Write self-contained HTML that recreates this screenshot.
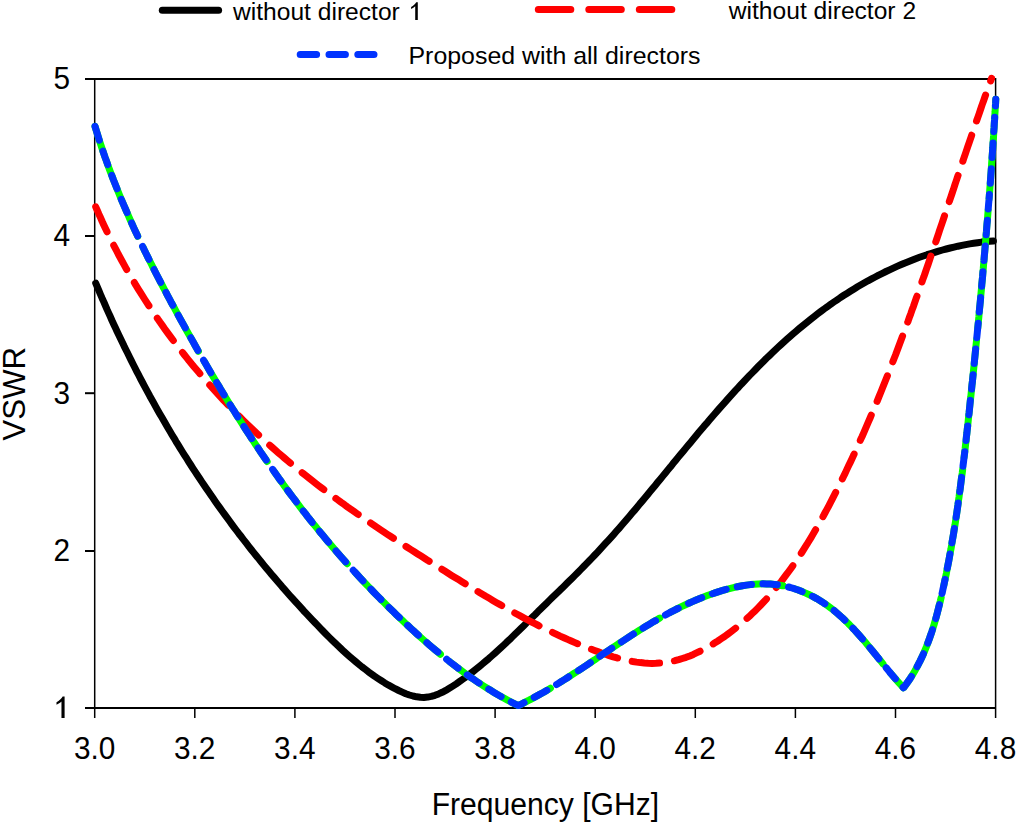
<!DOCTYPE html>
<html><head><meta charset="utf-8"><style>
html,body{margin:0;padding:0;background:#fff;}
svg{display:block;}
.t{font-family:"Liberation Sans",sans-serif;font-size:29.8px;fill:#000;}
.l{font-family:"Liberation Sans",sans-serif;font-size:24.6px;fill:#000;}
</style></head><body>
<svg width="1017" height="822" viewBox="0 0 1017 822">
<rect width="1017" height="822" fill="#fff"/>
<g stroke="#000" stroke-width="2" fill="none">
<path d="M85,79 H996" stroke-width="2"/>
<path d="M85,708 H996" stroke-width="2"/>
<path d="M94.7,78 V709" stroke-width="1.5"/>
<path d="M995.6,78 V718" stroke-width="1.5"/>
<path d="M85,551.0 H94.7" stroke-width="2"/>
<path d="M85,393.2 H94.7" stroke-width="2"/>
<path d="M85,236.0 H94.7" stroke-width="2"/>
<path d="M94.7,708 V718" stroke-width="1.5"/>
<path d="M194.8,708 V718" stroke-width="1.5"/>
<path d="M294.9,708 V718" stroke-width="1.5"/>
<path d="M395.0,708 V718" stroke-width="1.5"/>
<path d="M495.1,708 V718" stroke-width="1.5"/>
<path d="M595.2,708 V718" stroke-width="1.5"/>
<path d="M695.3,708 V718" stroke-width="1.5"/>
<path d="M795.4,708 V718" stroke-width="1.5"/>
<path d="M895.5,708 V718" stroke-width="1.5"/>
</g>
<g fill="none" stroke-linecap="round" stroke-linejoin="round" stroke-width="7">
<path d="M95.7,283.2 L97.3,286.9 L98.9,290.7 L100.5,294.5 L102.1,298.2 L103.8,301.9 L105.4,305.7 L107.0,309.4 L108.7,313.1 L110.4,316.8 L112.0,320.5 L113.7,324.2 L115.4,327.8 L117.1,331.5 L118.9,335.2 L120.6,338.8 L122.4,342.5 L124.1,346.1 L125.9,349.7 L127.7,353.3 L129.5,357.0 L131.3,360.6 L133.1,364.2 L134.9,367.8 L136.7,371.3 L138.6,374.9 L140.4,378.5 L142.3,382.0 L144.2,385.6 L146.1,389.1 L148.0,392.6 L149.9,396.2 L151.9,399.7 L153.8,403.2 L155.7,406.7 L157.7,410.2 L159.7,413.7 L161.7,417.1 L163.7,420.6 L165.7,424.1 L167.7,427.5 L169.8,431.0 L171.8,434.4 L173.9,437.8 L175.9,441.3 L178.0,444.7 L180.1,448.1 L182.2,451.5 L184.3,454.8 L186.5,458.2 L188.6,461.6 L190.8,465.0 L192.9,468.3 L195.1,471.7 L197.3,475.0 L199.5,478.3 L201.7,481.6 L204.0,485.0 L206.2,488.3 L208.5,491.6 L210.7,494.8 L213.0,498.1 L215.3,501.4 L217.6,504.7 L219.9,507.9 L222.3,511.2 L224.6,514.4 L227.0,517.6 L229.3,520.8 L231.7,524.1 L234.1,527.3 L236.5,530.5 L238.9,533.7 L241.4,536.8 L243.8,540.0 L246.3,543.2 L248.7,546.3 L251.2,549.5 L253.7,552.6 L256.2,555.7 L258.8,558.9 L261.3,562.0 L263.8,565.1 L266.4,568.2 L269.0,571.3 L271.6,574.4 L274.2,577.4 L276.8,580.5 L279.4,583.5 L282.0,586.6 L284.7,589.6 L287.4,592.7 L290.0,595.7 L292.7,598.7 L295.4,601.7 L298.2,604.7 L300.9,607.7 L303.6,610.7 L306.4,613.6 L309.2,616.6 L312.0,619.6 L314.8,622.5 L317.6,625.4 L320.4,628.4 L323.2,631.3 L326.1,634.2 L329.0,637.1 L331.9,639.9 L334.8,642.8 L337.7,645.6 L340.7,648.4 L343.6,651.2 L346.6,653.9 L349.7,656.6 L352.7,659.2 L355.8,661.8 L358.9,664.4 L362.0,666.9 L365.2,669.3 L368.4,671.8 L371.6,674.1 L374.8,676.4 L378.1,678.6 L381.5,680.8 L384.8,682.9 L388.2,684.9 L391.7,686.8 L395.1,688.7 L398.7,690.5 L402.2,692.1 L405.8,693.7 L409.4,695.0 L413.0,696.0 L416.7,696.8 L420.3,697.3 L424.0,697.4 L427.7,697.1 L431.3,696.4 L435.0,695.3 L438.6,693.9 L442.2,692.3 L445.8,690.4 L449.3,688.3 L452.8,686.1 L456.3,683.8 L459.7,681.4 L463.1,679.0 L466.5,676.6 L469.7,674.1 L473.0,671.6 L476.2,669.1 L479.4,666.5 L482.5,663.9 L485.6,661.3 L488.7,658.7 L491.7,656.0 L494.7,653.3 L497.7,650.6 L500.7,647.9 L503.6,645.2 L506.5,642.4 L509.5,639.7 L512.3,636.9 L515.2,634.1 L518.1,631.3 L520.9,628.5 L523.8,625.7 L526.6,622.9 L529.5,620.1 L532.3,617.3 L535.2,614.5 L538.0,611.6 L540.9,608.8 L543.7,606.0 L546.6,603.2 L549.4,600.4 L552.3,597.6 L555.2,594.8 L558.1,592.0 L560.9,589.2 L563.8,586.4 L566.7,583.5 L569.5,580.7 L572.4,577.9 L575.2,575.1 L578.1,572.2 L580.9,569.4 L583.7,566.5 L586.5,563.6 L589.3,560.8 L592.1,557.9 L594.8,555.0 L597.6,552.1 L600.3,549.1 L603.0,546.2 L605.7,543.2 L608.4,540.3 L611.1,537.3 L613.8,534.3 L616.4,531.3 L619.1,528.3 L621.7,525.3 L624.3,522.3 L626.9,519.2 L629.5,516.2 L632.1,513.1 L634.7,510.1 L637.3,507.0 L639.8,503.9 L642.4,500.9 L645.0,497.8 L647.5,494.7 L650.1,491.6 L652.6,488.5 L655.2,485.4 L657.7,482.3 L660.3,479.2 L662.8,476.1 L665.4,473.0 L667.9,469.9 L670.5,466.8 L673.0,463.6 L675.6,460.5 L678.1,457.4 L680.7,454.3 L683.3,451.2 L685.8,448.1 L688.4,445.0 L691.0,441.9 L693.6,438.8 L696.1,435.7 L698.7,432.6 L701.3,429.5 L703.9,426.4 L706.6,423.4 L709.2,420.3 L711.8,417.2 L714.4,414.2 L717.1,411.1 L719.7,408.1 L722.4,405.1 L725.1,402.1 L727.7,399.1 L730.4,396.1 L733.1,393.1 L735.8,390.1 L738.6,387.2 L741.3,384.2 L744.1,381.3 L746.8,378.4 L749.6,375.4 L752.4,372.6 L755.2,369.7 L758.0,366.8 L760.8,364.0 L763.6,361.2 L766.5,358.3 L769.4,355.6 L772.3,352.8 L775.2,350.0 L778.1,347.3 L781.0,344.6 L784.0,341.9 L787.0,339.2 L789.9,336.6 L793.0,333.9 L796.0,331.3 L799.0,328.8 L802.1,326.2 L805.2,323.7 L808.3,321.2 L811.4,318.7 L814.6,316.2 L817.7,313.8 L820.9,311.4 L824.1,309.0 L827.4,306.7 L830.6,304.3 L833.9,302.0 L837.2,299.8 L840.5,297.5 L843.9,295.3 L847.3,293.2 L850.7,291.0 L854.1,288.9 L857.5,286.8 L861.0,284.8 L864.5,282.8 L868.0,280.8 L871.6,278.9 L875.2,277.0 L878.7,275.1 L882.4,273.3 L886.0,271.5 L889.6,269.8 L893.3,268.1 L897.0,266.4 L900.7,264.8 L904.4,263.2 L908.2,261.7 L911.9,260.2 L915.7,258.7 L919.5,257.3 L923.3,256.0 L927.1,254.7 L930.9,253.5 L934.7,252.3 L938.6,251.1 L942.5,250.0 L946.3,249.0 L950.2,248.0 L954.1,247.1 L958.0,246.2 L961.9,245.4 L965.8,244.6 L969.7,243.9 L973.7,243.3 L977.6,242.7 L981.6,242.1 L985.5,241.7 L989.4,241.3 L993.4,240.9" stroke="#000"/>
<path d="M95.7,206.8 L97.3,210.5 L98.9,214.2 L100.6,217.8 L102.2,221.5 L103.9,225.2 L105.6,228.8 L107.3,232.4 L109.1,236.1 L110.9,239.7 L112.7,243.3 L114.5,246.8 L116.4,250.4 L118.2,254.0 L120.1,257.5 L122.0,261.0 L124.0,264.6 L125.9,268.1 L127.9,271.6 L129.9,275.0 L131.9,278.5 L134.0,281.9 L136.0,285.4 L138.1,288.8 L140.2,292.2 L142.4,295.6 L144.5,299.0 L146.7,302.4 L148.9,305.7 L151.1,309.1 L153.3,312.4 L155.6,315.7 L157.9,319.1 L160.1,322.3 L162.5,325.6 L164.8,328.9 L167.1,332.1 L169.5,335.4 L171.9,338.6 L174.3,341.8 L176.7,345.0 L179.2,348.2 L181.6,351.3 L184.1,354.5 L186.6,357.6 L189.1,360.8 L191.7,363.9 L194.2,367.0 L196.8,370.0 L199.4,373.1 L202.0,376.2 L204.6,379.2 L207.2,382.2 L209.9,385.2 L212.6,388.2 L215.3,391.2 L218.0,394.2 L220.7,397.1 L223.4,400.0 L226.2,402.9 L228.9,405.9 L231.7,408.7 L234.5,411.6 L237.4,414.5 L240.2,417.3 L243.0,420.1 L245.9,422.9 L248.8,425.7 L251.7,428.5 L254.6,431.3 L257.5,434.0 L260.4,436.8 L263.4,439.5 L266.3,442.2 L269.3,444.9 L272.3,447.5 L275.3,450.2 L278.3,452.8 L281.4,455.4 L284.4,458.0 L287.5,460.6 L290.5,463.2 L293.6,465.8 L296.7,468.3 L299.8,470.8 L302.9,473.3 L306.1,475.8 L309.2,478.3 L312.4,480.8 L315.5,483.2 L318.7,485.7 L321.9,488.1 L325.1,490.5 L328.3,492.9 L331.5,495.3 L334.7,497.7 L338.0,500.0 L341.2,502.4 L344.5,504.7 L347.7,507.1 L351.0,509.4 L354.3,511.7 L357.5,514.0 L360.8,516.3 L364.1,518.6 L367.4,520.8 L370.8,523.1 L374.1,525.4 L377.4,527.6 L380.7,529.8 L384.1,532.1 L387.4,534.3 L390.8,536.5 L394.1,538.7 L397.5,540.9 L400.8,543.1 L404.2,545.3 L407.6,547.5 L410.9,549.6 L414.3,551.8 L417.7,554.0 L421.1,556.1 L424.5,558.3 L427.9,560.4 L431.2,562.6 L434.6,564.7 L438.0,566.9 L441.4,569.0 L444.8,571.1 L448.2,573.3 L451.6,575.4 L455.0,577.5 L458.5,579.6 L461.9,581.7 L465.3,583.8 L468.7,585.9 L472.1,588.0 L475.5,590.1 L479.0,592.2 L482.4,594.2 L485.8,596.3 L489.3,598.3 L492.8,600.4 L496.2,602.4 L499.7,604.4 L503.2,606.4 L506.6,608.4 L510.1,610.4 L513.6,612.3 L517.2,614.3 L520.7,616.2 L524.2,618.1 L527.8,620.0 L531.3,621.8 L534.9,623.7 L538.5,625.5 L542.1,627.3 L545.7,629.1 L549.3,630.9 L552.9,632.6 L556.6,634.4 L560.2,636.1 L563.9,637.7 L567.6,639.4 L571.3,641.0 L575.0,642.6 L578.8,644.2 L582.5,645.7 L586.3,647.3 L590.1,648.8 L593.9,650.2 L597.8,651.6 L601.6,653.0 L605.5,654.3 L609.3,655.6 L613.2,656.8 L617.1,657.9 L621.0,658.9 L624.9,659.9 L628.8,660.7 L632.7,661.5 L636.5,662.1 L640.4,662.6 L644.3,663.0 L648.2,663.3 L652.1,663.4 L655.9,663.3 L659.7,663.1 L663.6,662.7 L667.4,662.2 L671.2,661.5 L674.9,660.7 L678.7,659.7 L682.4,658.5 L686.1,657.3 L689.8,655.9 L693.4,654.4 L697.0,652.7 L700.6,651.0 L704.1,649.2 L707.7,647.2 L711.1,645.2 L714.5,643.1 L717.9,641.0 L721.3,638.7 L724.6,636.5 L727.8,634.1 L731.0,631.7 L734.2,629.3 L737.3,626.8 L740.3,624.3 L743.4,621.7 L746.3,619.0 L749.3,616.4 L752.2,613.6 L755.0,610.9 L757.8,608.1 L760.6,605.2 L763.4,602.3 L766.1,599.4 L768.7,596.4 L771.3,593.4 L773.9,590.4 L776.5,587.3 L779.0,584.2 L781.5,581.1 L783.9,577.9 L786.3,574.7 L788.7,571.5 L791.1,568.2 L793.4,564.9 L795.7,561.6 L797.9,558.3 L800.2,554.9 L802.4,551.5 L804.5,548.1 L806.7,544.7 L808.8,541.2 L810.9,537.8 L813.0,534.3 L815.0,530.8 L817.1,527.2 L819.1,523.7 L821.0,520.1 L823.0,516.6 L824.9,513.0 L826.9,509.4 L828.8,505.8 L830.7,502.2 L832.5,498.6 L834.4,494.9 L836.2,491.3 L838.0,487.7 L839.8,484.0 L841.6,480.4 L843.4,476.7 L845.2,473.1 L846.9,469.4 L848.6,465.8 L850.4,462.1 L852.1,458.5 L853.8,454.8 L855.4,451.1 L857.1,447.5 L858.8,443.8 L860.4,440.1 L862.1,436.5 L863.7,432.8 L865.3,429.1 L866.9,425.4 L868.5,421.7 L870.1,418.0 L871.6,414.4 L873.2,410.7 L874.7,407.0 L876.3,403.3 L877.8,399.6 L879.3,395.9 L880.8,392.2 L882.3,388.5 L883.8,384.7 L885.3,381.0 L886.8,377.3 L888.3,373.6 L889.7,369.9 L891.2,366.2 L892.6,362.4 L894.0,358.7 L895.5,355.0 L896.9,351.3 L898.3,347.5 L899.7,343.8 L901.1,340.1 L902.5,336.3 L903.9,332.6 L905.2,328.8 L906.6,325.1 L908.0,321.4 L909.3,317.6 L910.7,313.9 L912.0,310.1 L913.4,306.4 L914.7,302.6 L916.0,298.8 L917.4,295.1 L918.7,291.3 L920.0,287.6 L921.3,283.8 L922.6,280.0 L924.0,276.3 L925.3,272.5 L926.6,268.7 L927.9,265.0 L929.2,261.2 L930.4,257.4 L931.7,253.6 L933.0,249.8 L934.3,246.1 L935.6,242.3 L936.9,238.5 L938.2,234.7 L939.4,230.9 L940.7,227.1 L942.0,223.3 L943.3,219.5 L944.5,215.8 L945.8,212.0 L947.1,208.2 L948.4,204.4 L949.6,200.6 L950.9,196.8 L952.2,193.0 L953.5,189.2 L954.7,185.4 L956.0,181.5 L957.3,177.7 L958.6,173.9 L959.8,170.1 L961.1,166.3 L962.4,162.5 L963.7,158.7 L965.0,154.9 L966.3,151.0 L967.6,147.2 L968.9,143.4 L970.2,139.6 L971.5,135.8 L972.8,131.9 L974.1,128.1 L975.4,124.3 L976.7,120.5 L978.1,116.6 L979.4,112.8 L980.7,109.0 L982.0,105.1 L983.4,101.3 L984.7,97.5 L986.1,93.6 L987.4,89.8 L988.8,86.0 L990.2,82.1 L991.6,78.3" stroke="#ff0000" stroke-dasharray="27.5 15"/>
<path d="M95.0,126.4 L96.2,130.3 L97.4,134.1 L98.6,138.0 L99.8,141.8 L101.1,145.7 L102.4,149.5 L103.7,153.3 L105.0,157.1 L106.4,160.9 L107.7,164.7 L109.1,168.5 L110.5,172.2 L112.0,176.0 L113.4,179.8 L114.9,183.5 L116.4,187.2 L117.9,191.0 L119.4,194.7 L120.9,198.4 L122.5,202.1 L124.1,205.8 L125.7,209.5 L127.3,213.2 L128.9,216.9 L130.5,220.5 L132.2,224.2 L133.8,227.8 L135.5,231.5 L137.2,235.1 L138.9,238.8 L140.7,242.4 L142.4,246.0 L144.1,249.6 L145.9,253.2 L147.7,256.9 L149.5,260.5 L151.3,264.0 L153.1,267.6 L154.9,271.2 L156.7,274.8 L158.6,278.4 L160.4,281.9 L162.3,285.5 L164.2,289.1 L166.1,292.6 L167.9,296.2 L169.8,299.7 L171.7,303.3 L173.7,306.8 L175.6,310.3 L177.5,313.9 L179.4,317.4 L181.4,320.9 L183.3,324.4 L185.3,328.0 L187.2,331.5 L189.2,335.0 L191.2,338.5 L193.2,342.0 L195.1,345.5 L197.1,349.0 L199.1,352.5 L201.1,356.0 L203.1,359.5 L205.2,363.0 L207.2,366.4 L209.2,369.9 L211.2,373.4 L213.3,376.9 L215.3,380.3 L217.4,383.8 L219.5,387.2 L221.5,390.7 L223.6,394.1 L225.7,397.5 L227.8,401.0 L229.9,404.4 L232.0,407.8 L234.2,411.2 L236.3,414.6 L238.4,418.0 L240.6,421.4 L242.8,424.8 L244.9,428.2 L247.1,431.6 L249.3,434.9 L251.5,438.3 L253.7,441.7 L255.9,445.0 L258.2,448.3 L260.4,451.7 L262.7,455.0 L264.9,458.3 L267.2,461.6 L269.5,464.9 L271.8,468.2 L274.1,471.5 L276.4,474.8 L278.7,478.1 L281.1,481.3 L283.4,484.6 L285.8,487.8 L288.2,491.1 L290.6,494.3 L293.0,497.5 L295.4,500.7 L297.8,503.9 L300.2,507.1 L302.7,510.3 L305.2,513.4 L307.6,516.6 L310.1,519.7 L312.6,522.9 L315.2,526.0 L317.7,529.1 L320.2,532.2 L322.8,535.3 L325.4,538.4 L327.9,541.5 L330.5,544.6 L333.1,547.6 L335.8,550.7 L338.4,553.7 L341.0,556.7 L343.7,559.8 L346.4,562.8 L349.1,565.8 L351.8,568.7 L354.5,571.7 L357.2,574.7 L359.9,577.6 L362.7,580.6 L365.4,583.5 L368.2,586.4 L371.0,589.3 L373.8,592.2 L376.6,595.1 L379.4,597.9 L382.2,600.8 L385.1,603.6 L387.9,606.5 L390.8,609.3 L393.7,612.1 L396.6,614.9 L399.5,617.7 L402.4,620.4 L405.3,623.2 L408.2,625.9 L411.2,628.7 L414.2,631.4 L417.1,634.1 L420.1,636.8 L423.1,639.5 L426.1,642.1 L429.2,644.8 L432.2,647.4 L435.3,650.0 L438.4,652.5 L441.4,655.1 L444.6,657.6 L447.7,660.1 L450.8,662.6 L454.0,665.1 L457.2,667.5 L460.4,669.9 L463.6,672.3 L466.8,674.6 L470.1,677.0 L473.4,679.2 L476.7,681.5 L480.0,683.7 L483.4,685.9 L486.8,688.0 L490.2,690.1 L493.6,692.2 L497.0,694.3 L500.5,696.3 L504.0,698.2 L507.5,700.1 L511.1,702.0 L514.7,703.8 L518.3,705.6 L521.9,703.8 L525.5,702.0 L529.1,700.2 L532.6,698.3 L536.1,696.4 L539.7,694.4 L543.2,692.5 L546.7,690.4 L550.1,688.4 L553.6,686.3 L557.1,684.2 L560.5,682.1 L564.0,679.9 L567.4,677.7 L570.8,675.5 L574.2,673.3 L577.7,671.1 L581.1,668.8 L584.5,666.6 L587.9,664.3 L591.3,662.0 L594.7,659.8 L598.0,657.5 L601.4,655.2 L604.8,652.9 L608.2,650.7 L611.6,648.4 L615.0,646.1 L618.4,643.8 L621.9,641.6 L625.3,639.4 L628.7,637.1 L632.1,634.9 L635.6,632.7 L639.0,630.6 L642.5,628.4 L645.9,626.3 L649.4,624.2 L652.9,622.1 L656.4,620.1 L659.9,618.0 L663.5,616.1 L667.0,614.1 L670.6,612.2 L674.2,610.3 L677.8,608.5 L681.4,606.7 L685.0,605.0 L688.7,603.3 L692.4,601.6 L696.1,600.0 L699.8,598.5 L703.6,597.0 L707.3,595.6 L711.1,594.2 L715.0,592.9 L718.8,591.6 L722.7,590.4 L726.6,589.3 L730.5,588.3 L734.5,587.3 L738.5,586.5 L742.4,585.7 L746.4,585.1 L750.4,584.6 L754.4,584.2 L758.5,583.9 L762.5,583.8 L766.5,583.9 L770.5,584.1 L774.5,584.4 L778.5,585.0 L782.5,585.7 L786.5,586.5 L790.4,587.5 L794.3,588.7 L798.2,590.0 L802.0,591.5 L805.7,593.1 L809.4,594.8 L813.1,596.6 L816.7,598.6 L820.2,600.7 L823.6,602.9 L826.9,605.2 L830.2,607.6 L833.4,610.0 L836.5,612.6 L839.6,615.3 L842.6,618.0 L845.5,620.8 L848.5,623.7 L851.3,626.6 L854.1,629.5 L856.9,632.6 L859.6,635.6 L862.3,638.7 L865.0,641.8 L867.6,644.9 L870.2,648.1 L872.8,651.3 L875.4,654.4 L877.9,657.6 L880.5,660.7 L883.0,663.9 L885.6,667.0 L888.1,670.1 L890.6,673.2 L893.2,676.2 L895.7,679.2 L898.3,682.1 L900.9,685.0 L903.5,687.8 L905.9,684.6 L908.2,681.4 L910.4,678.2 L912.5,674.8 L914.5,671.5 L916.4,668.1 L918.2,664.6 L920.0,661.1 L921.7,657.6 L923.4,654.0 L924.9,650.4 L926.4,646.7 L927.8,643.0 L929.2,639.3 L930.5,635.5 L931.8,631.8 L933.0,628.0 L934.2,624.1 L935.3,620.3 L936.4,616.4 L937.4,612.6 L938.4,608.7 L939.4,604.7 L940.4,600.8 L941.3,596.9 L942.2,592.9 L943.0,589.0 L943.9,585.0 L944.7,581.1 L945.6,577.1 L946.4,573.2 L947.1,569.2 L947.9,565.2 L948.7,561.2 L949.4,557.3 L950.1,553.3 L950.9,549.3 L951.6,545.3 L952.2,541.3 L952.9,537.3 L953.6,533.3 L954.2,529.4 L954.9,525.4 L955.5,521.4 L956.1,517.4 L956.7,513.4 L957.3,509.3 L957.9,505.3 L958.4,501.3 L959.0,497.3 L959.5,493.3 L960.1,489.3 L960.6,485.3 L961.1,481.3 L961.6,477.2 L962.2,473.2 L962.7,469.2 L963.1,465.2 L963.6,461.2 L964.1,457.1 L964.6,453.1 L965.1,449.1 L965.5,445.1 L966.0,441.1 L966.4,437.0 L966.9,433.0 L967.3,429.0 L967.8,425.0 L968.2,420.9 L968.6,416.9 L969.1,412.9 L969.5,408.9 L969.9,404.8 L970.3,400.8 L970.8,396.8 L971.2,392.8 L971.6,388.8 L972.0,384.7 L972.5,380.7 L972.9,376.7 L973.3,372.7 L973.7,368.7 L974.1,364.6 L974.5,360.6 L974.9,356.6 L975.3,352.6 L975.7,348.6 L976.1,344.6 L976.5,340.5 L976.9,336.5 L977.3,332.5 L977.7,328.5 L978.1,324.5 L978.5,320.5 L978.9,316.5 L979.2,312.4 L979.6,308.4 L980.0,304.4 L980.4,300.4 L980.7,296.4 L981.1,292.4 L981.5,288.4 L981.8,284.3 L982.2,280.3 L982.6,276.3 L982.9,272.3 L983.3,268.3 L983.6,264.3 L984.0,260.3 L984.3,256.2 L984.7,252.2 L985.0,248.2 L985.4,244.2 L985.7,240.2 L986.0,236.2 L986.4,232.1 L986.7,228.1 L987.0,224.1 L987.4,220.1 L987.7,216.1 L988.0,212.0 L988.3,208.0 L988.6,204.0 L989.0,200.0 L989.3,196.0 L989.6,191.9 L989.9,187.9 L990.2,183.9 L990.5,179.9 L990.8,175.8 L991.1,171.8 L991.4,167.8 L991.6,163.8 L991.9,159.7 L992.2,155.7 L992.5,151.7 L992.8,147.6 L993.0,143.6 L993.3,139.6 L993.6,135.5 L993.8,131.5 L994.1,127.5 L994.3,123.4 L994.6,119.4 L994.8,115.4 L995.1,111.3 L995.3,107.3 L995.6,103.2 L995.8,99.2" stroke="#00ff00" stroke-dasharray="118 12"/>
<path d="M95.0,126.4 L96.2,130.3 L97.4,134.1 L98.6,138.0 L99.8,141.8 L101.1,145.7 L102.4,149.5 L103.7,153.3 L105.0,157.1 L106.4,160.9 L107.7,164.7 L109.1,168.5 L110.5,172.2 L112.0,176.0 L113.4,179.8 L114.9,183.5 L116.4,187.2 L117.9,191.0 L119.4,194.7 L120.9,198.4 L122.5,202.1 L124.1,205.8 L125.7,209.5 L127.3,213.2 L128.9,216.9 L130.5,220.5 L132.2,224.2 L133.8,227.8 L135.5,231.5 L137.2,235.1 L138.9,238.8 L140.7,242.4 L142.4,246.0 L144.1,249.6 L145.9,253.2 L147.7,256.9 L149.5,260.5 L151.3,264.0 L153.1,267.6 L154.9,271.2 L156.7,274.8 L158.6,278.4 L160.4,281.9 L162.3,285.5 L164.2,289.1 L166.1,292.6 L167.9,296.2 L169.8,299.7 L171.7,303.3 L173.7,306.8 L175.6,310.3 L177.5,313.9 L179.4,317.4 L181.4,320.9 L183.3,324.4 L185.3,328.0 L187.2,331.5 L189.2,335.0 L191.2,338.5 L193.2,342.0 L195.1,345.5 L197.1,349.0 L199.1,352.5 L201.1,356.0 L203.1,359.5 L205.2,363.0 L207.2,366.4 L209.2,369.9 L211.2,373.4 L213.3,376.9 L215.3,380.3 L217.4,383.8 L219.5,387.2 L221.5,390.7 L223.6,394.1 L225.7,397.5 L227.8,401.0 L229.9,404.4 L232.0,407.8 L234.2,411.2 L236.3,414.6 L238.4,418.0 L240.6,421.4 L242.8,424.8 L244.9,428.2 L247.1,431.6 L249.3,434.9 L251.5,438.3 L253.7,441.7 L255.9,445.0 L258.2,448.3 L260.4,451.7 L262.7,455.0 L264.9,458.3 L267.2,461.6 L269.5,464.9 L271.8,468.2 L274.1,471.5 L276.4,474.8 L278.7,478.1 L281.1,481.3 L283.4,484.6 L285.8,487.8 L288.2,491.1 L290.6,494.3 L293.0,497.5 L295.4,500.7 L297.8,503.9 L300.2,507.1 L302.7,510.3 L305.2,513.4 L307.6,516.6 L310.1,519.7 L312.6,522.9 L315.2,526.0 L317.7,529.1 L320.2,532.2 L322.8,535.3 L325.4,538.4 L327.9,541.5 L330.5,544.6 L333.1,547.6 L335.8,550.7 L338.4,553.7 L341.0,556.7 L343.7,559.8 L346.4,562.8 L349.1,565.8 L351.8,568.7 L354.5,571.7 L357.2,574.7 L359.9,577.6 L362.7,580.6 L365.4,583.5 L368.2,586.4 L371.0,589.3 L373.8,592.2 L376.6,595.1 L379.4,597.9 L382.2,600.8 L385.1,603.6 L387.9,606.5 L390.8,609.3 L393.7,612.1 L396.6,614.9 L399.5,617.7 L402.4,620.4 L405.3,623.2 L408.2,625.9 L411.2,628.7 L414.2,631.4 L417.1,634.1 L420.1,636.8 L423.1,639.5 L426.1,642.1 L429.2,644.8 L432.2,647.4 L435.3,650.0 L438.4,652.5 L441.4,655.1 L444.6,657.6 L447.7,660.1 L450.8,662.6 L454.0,665.1 L457.2,667.5 L460.4,669.9 L463.6,672.3 L466.8,674.6 L470.1,677.0 L473.4,679.2 L476.7,681.5 L480.0,683.7 L483.4,685.9 L486.8,688.0 L490.2,690.1 L493.6,692.2 L497.0,694.3 L500.5,696.3 L504.0,698.2 L507.5,700.1 L511.1,702.0 L514.7,703.8 L518.3,705.6 L521.9,703.8 L525.5,702.0 L529.1,700.2 L532.6,698.3 L536.1,696.4 L539.7,694.4 L543.2,692.5 L546.7,690.4 L550.1,688.4 L553.6,686.3 L557.1,684.2 L560.5,682.1 L564.0,679.9 L567.4,677.7 L570.8,675.5 L574.2,673.3 L577.7,671.1 L581.1,668.8 L584.5,666.6 L587.9,664.3 L591.3,662.0 L594.7,659.8 L598.0,657.5 L601.4,655.2 L604.8,652.9 L608.2,650.7 L611.6,648.4 L615.0,646.1 L618.4,643.8 L621.9,641.6 L625.3,639.4 L628.7,637.1 L632.1,634.9 L635.6,632.7 L639.0,630.6 L642.5,628.4 L645.9,626.3 L649.4,624.2 L652.9,622.1 L656.4,620.1 L659.9,618.0 L663.5,616.1 L667.0,614.1 L670.6,612.2 L674.2,610.3 L677.8,608.5 L681.4,606.7 L685.0,605.0 L688.7,603.3 L692.4,601.6 L696.1,600.0 L699.8,598.5 L703.6,597.0 L707.3,595.6 L711.1,594.2 L715.0,592.9 L718.8,591.6 L722.7,590.4 L726.6,589.3 L730.5,588.3 L734.5,587.3 L738.5,586.5 L742.4,585.7 L746.4,585.1 L750.4,584.6 L754.4,584.2 L758.5,583.9 L762.5,583.8 L766.5,583.9 L770.5,584.1 L774.5,584.4 L778.5,585.0 L782.5,585.7 L786.5,586.5 L790.4,587.5 L794.3,588.7 L798.2,590.0 L802.0,591.5 L805.7,593.1 L809.4,594.8 L813.1,596.6 L816.7,598.6 L820.2,600.7 L823.6,602.9 L826.9,605.2 L830.2,607.6 L833.4,610.0 L836.5,612.6 L839.6,615.3 L842.6,618.0 L845.5,620.8 L848.5,623.7 L851.3,626.6 L854.1,629.5 L856.9,632.6 L859.6,635.6 L862.3,638.7 L865.0,641.8 L867.6,644.9 L870.2,648.1 L872.8,651.3 L875.4,654.4 L877.9,657.6 L880.5,660.7 L883.0,663.9 L885.6,667.0 L888.1,670.1 L890.6,673.2 L893.2,676.2 L895.7,679.2 L898.3,682.1 L900.9,685.0 L903.5,687.8 L905.9,684.6 L908.2,681.4 L910.4,678.2 L912.5,674.8 L914.5,671.5 L916.4,668.1 L918.2,664.6 L920.0,661.1 L921.7,657.6 L923.4,654.0 L924.9,650.4 L926.4,646.7 L927.8,643.0 L929.2,639.3 L930.5,635.5 L931.8,631.8 L933.0,628.0 L934.2,624.1 L935.3,620.3 L936.4,616.4 L937.4,612.6 L938.4,608.7 L939.4,604.7 L940.4,600.8 L941.3,596.9 L942.2,592.9 L943.0,589.0 L943.9,585.0 L944.7,581.1 L945.6,577.1 L946.4,573.2 L947.1,569.2 L947.9,565.2 L948.7,561.2 L949.4,557.3 L950.1,553.3 L950.9,549.3 L951.6,545.3 L952.2,541.3 L952.9,537.3 L953.6,533.3 L954.2,529.4 L954.9,525.4 L955.5,521.4 L956.1,517.4 L956.7,513.4 L957.3,509.3 L957.9,505.3 L958.4,501.3 L959.0,497.3 L959.5,493.3 L960.1,489.3 L960.6,485.3 L961.1,481.3 L961.6,477.2 L962.2,473.2 L962.7,469.2 L963.1,465.2 L963.6,461.2 L964.1,457.1 L964.6,453.1 L965.1,449.1 L965.5,445.1 L966.0,441.1 L966.4,437.0 L966.9,433.0 L967.3,429.0 L967.8,425.0 L968.2,420.9 L968.6,416.9 L969.1,412.9 L969.5,408.9 L969.9,404.8 L970.3,400.8 L970.8,396.8 L971.2,392.8 L971.6,388.8 L972.0,384.7 L972.5,380.7 L972.9,376.7 L973.3,372.7 L973.7,368.7 L974.1,364.6 L974.5,360.6 L974.9,356.6 L975.3,352.6 L975.7,348.6 L976.1,344.6 L976.5,340.5 L976.9,336.5 L977.3,332.5 L977.7,328.5 L978.1,324.5 L978.5,320.5 L978.9,316.5 L979.2,312.4 L979.6,308.4 L980.0,304.4 L980.4,300.4 L980.7,296.4 L981.1,292.4 L981.5,288.4 L981.8,284.3 L982.2,280.3 L982.6,276.3 L982.9,272.3 L983.3,268.3 L983.6,264.3 L984.0,260.3 L984.3,256.2 L984.7,252.2 L985.0,248.2 L985.4,244.2 L985.7,240.2 L986.0,236.2 L986.4,232.1 L986.7,228.1 L987.0,224.1 L987.4,220.1 L987.7,216.1 L988.0,212.0 L988.3,208.0 L988.6,204.0 L989.0,200.0 L989.3,196.0 L989.6,191.9 L989.9,187.9 L990.2,183.9 L990.5,179.9 L990.8,175.8 L991.1,171.8 L991.4,167.8 L991.6,163.8 L991.9,159.7 L992.2,155.7 L992.5,151.7 L992.8,147.6 L993.0,143.6 L993.3,139.6 L993.6,135.5 L993.8,131.5 L994.1,127.5 L994.3,123.4 L994.6,119.4 L994.8,115.4 L995.1,111.3 L995.3,107.3 L995.6,103.2 L995.8,99.2" stroke="#0033ff" stroke-dasharray="14.5 11.34"/>
</g>
<path transform="translate(64.6,717.9) scale(29.8,29.8)" d="M0,0 V-0.715 H-0.065 C-0.10,-0.64 -0.18,-0.575 -0.272,-0.525 V-0.445 C-0.21,-0.47 -0.15,-0.51 -0.105,-0.55 V0 Z" fill="#000"/>
<path transform="translate(417.8,19.9) scale(24.6,24.6)" d="M0,0 V-0.715 H-0.065 C-0.10,-0.64 -0.18,-0.575 -0.272,-0.525 V-0.445 C-0.21,-0.47 -0.15,-0.51 -0.105,-0.55 V0 Z" fill="#000"/>
<text transform="translate(70.2,560.75) scale(1,1.050)" text-anchor="end" class="t">2</text>
<text transform="translate(70.2,403.50) scale(1,1.050)" text-anchor="end" class="t">3</text>
<text transform="translate(70.2,246.25) scale(1,1.050)" text-anchor="end" class="t">4</text>
<text transform="translate(70.2,89.00) scale(1,1.050)" text-anchor="end" class="t">5</text>
<text transform="translate(94.60,758.6) scale(1,1.050)" text-anchor="middle" class="t">3.0</text>
<text transform="translate(194.70,758.6) scale(1,1.050)" text-anchor="middle" class="t">3.2</text>
<text transform="translate(294.80,758.6) scale(1,1.050)" text-anchor="middle" class="t">3.4</text>
<text transform="translate(394.90,758.6) scale(1,1.050)" text-anchor="middle" class="t">3.6</text>
<text transform="translate(495.00,758.6) scale(1,1.050)" text-anchor="middle" class="t">3.8</text>
<text transform="translate(595.10,758.6) scale(1,1.050)" text-anchor="middle" class="t">4.0</text>
<text transform="translate(695.20,758.6) scale(1,1.050)" text-anchor="middle" class="t">4.2</text>
<text transform="translate(795.30,758.6) scale(1,1.050)" text-anchor="middle" class="t">4.4</text>
<text transform="translate(895.40,758.6) scale(1,1.050)" text-anchor="middle" class="t">4.6</text>
<text transform="translate(995.50,758.6) scale(1,1.050)" text-anchor="middle" class="t">4.8</text>
<text transform="translate(545.4,814.8) scale(1,1.05)" text-anchor="middle" class="t" style="font-size:30.1px">Frequency [GHz]</text>
<text transform="translate(24.9,393.75) rotate(-90)" text-anchor="middle" class="t" style="font-size:31.3px">VSWR</text>
<g fill="none" stroke-linecap="round" stroke-width="7">
<path d="M162.3,10.3 H218.6" stroke="#000"/>
<path d="M538.3,9.4 H671.8" stroke="#ff0000" stroke-dasharray="32.5 18"/>
<path d="M300.2,54.4 H374" stroke="#0033ff" stroke-dasharray="16.4 12.4"/>
</g>
<text x="233" y="19.5" class="l">without director</text>
<text x="728.8" y="18.9" class="l">without director 2</text>
<text x="408.5" y="63.6" class="l" textLength="292" lengthAdjust="spacingAndGlyphs">Proposed with all directors</text>
</svg>
</body></html>
